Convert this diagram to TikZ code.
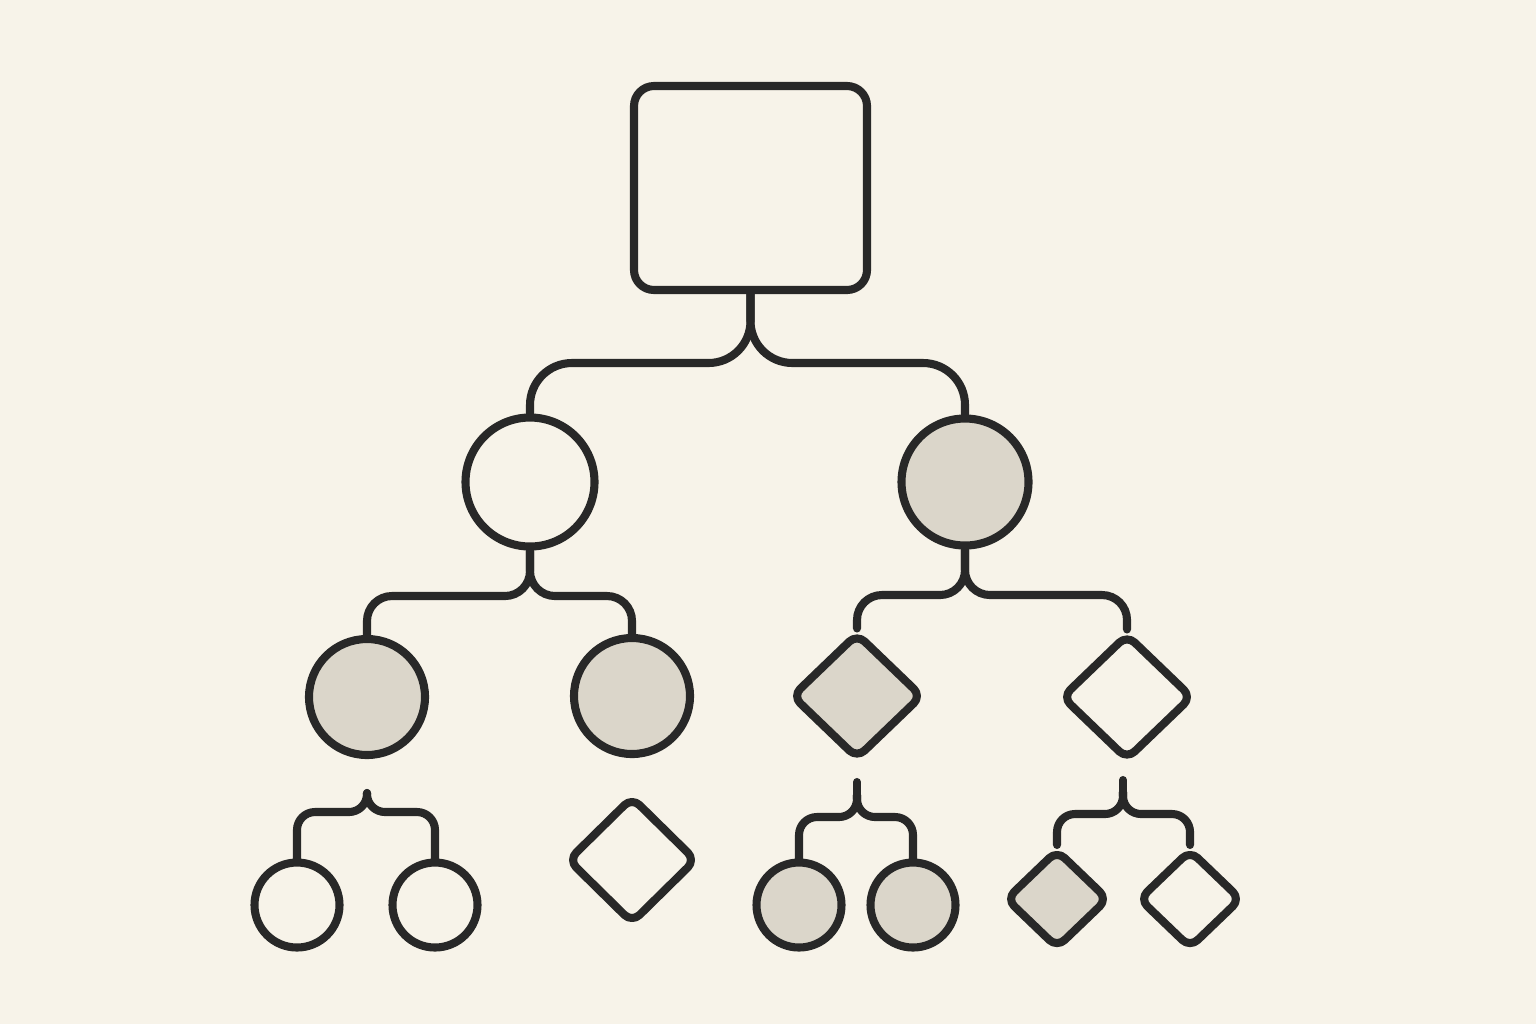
\documentclass[tikz,border=0pt]{standalone}
\usepackage{tikz}
\usetikzlibrary{positioning,shapes.geometric}
\definecolor{paper}{RGB}{247,243,233}
\definecolor{ink}{RGB}{40,40,40}
\definecolor{shade}{RGB}{219,214,202}

\begin{document}
\begin{tikzpicture}[on grid,line width=2.3pt,line join=round,line cap=round,
  box node/.style={rectangle,draw=ink,rounded corners=0.2cm,minimum width=2.33cm,minimum height=2.04cm,inner sep=0pt},
  round node/.style={circle,draw=ink,inner sep=0pt},
  kite node/.style={diamond,draw=ink,rounded corners=3pt,inner sep=0pt},
  link/.style={draw=ink}]
  \fill[paper] (0,0) rectangle (15.36,-10.24);
  \useasboundingbox (0,0) rectangle (15.36,-10.24);

  \node[box node] (top) at (7.505,-1.88) {};
  \node[round node,minimum size=1.29cm] (l) [below left=2.94cm and 2.205cm of top] {};
  \node[round node,fill=shade,minimum size=1.27cm] (r) [below right=2.94cm and 2.145cm of top] {};
  \node[round node,fill=shade,minimum size=1.16cm] (ll) [below left=2.15cm and 1.63cm of l] {};
  \node[round node,fill=shade,minimum size=1.16cm] (lr) [below right=2.14cm and 1.02cm of l] {};
  \node[kite node,fill=shade,minimum width=1.32cm,minimum height=1.27cm] (rl) [below left=2.14cm and 1.08cm of r] {};
  \node[kite node,minimum width=1.32cm,minimum height=1.27cm] (rr) [below right=2.15cm and 1.62cm of r] {};

  % untere Reihe haengt nicht an den Knoten darueber, nur die Spitzen (t1..t3) sind darunter ausgerichtet
  \node[round node,minimum size=0.85cm] (lll) [below left=2.08cm and 0.70cm of ll] {};
  \node[round node,minimum size=0.85cm] (llr) [below right=2.08cm and 0.68cm of ll] {};
  \node[kite node,minimum width=1.30cm,minimum height=1.28cm] (lrd) [below=1.64cm of lr] {};
  \node[round node,fill=shade,minimum size=0.85cm] (rll) [below left=2.09cm and 0.58cm of rl] {};
  \node[round node,fill=shade,minimum size=0.85cm] (rlr) [below right=2.09cm and 0.56cm of rl] {};
  \node[kite node,fill=shade,minimum width=1.04cm,minimum height=1.0cm] (rrl) [below left=2.02cm and 0.70cm of rr] {};
  \node[kite node,minimum width=1.04cm,minimum height=1.0cm] (rrr) [below right=2.02cm and 0.63cm of rr] {};
  \coordinate[below=0.96cm of ll] (t1);
  \coordinate[below=0.99cm of rl] (t2);
  \coordinate[below left=0.95cm and 0.04cm of rr] (t3);
  \coordinate[above=0.13cm of t2] (s2);
  \coordinate[above=0.12cm of t3] (s3);

  % Hoehe der Querbalken
  \coordinate[below=1.75cm of top] (j0);
  \coordinate[below=1.14cm of l] (j1);
  \coordinate[below=1.13cm of r] (j2);
  \coordinate[below=0.19cm of t1] (j3);
  \coordinate[below=0.22cm of t2] (j4);
  \coordinate[below=0.22cm of t3] (j5);

  \draw[link,rounded corners=0.42cm] (top.south) |- (l.north |- j0) -- (l.north);
  \draw[link,rounded corners=0.42cm] (top.south) |- (r.north |- j0) -- (r.north);
  \draw[link,rounded corners=0.25cm] (l.south) |- (ll.north |- j1) -- (ll.north);
  \draw[link,rounded corners=0.25cm] (l.south) |- (lr.north |- j1) -- (lr.north);
  \draw[link,rounded corners=0.25cm] (r.south) |- (rl.north |- j2) -- (rl.north);
  \draw[link,rounded corners=0.25cm] (r.south) |- (rr.north |- j2) -- (rr.north);
  \draw[link,rounded corners=0.18cm] (t1) |- (lll.north |- j3) -- (lll.north);
  \draw[link,rounded corners=0.18cm] (t1) |- (llr.north |- j3) -- (llr.north);
  \draw[link] (s2) -- (t2);
  \draw[link,rounded corners=0.18cm] (t2) |- (rll.north |- j4) -- (rll.north);
  \draw[link,rounded corners=0.18cm] (t2) |- (rlr.north |- j4) -- (rlr.north);
  \draw[link] (s3) -- (t3);
  \draw[link,rounded corners=0.18cm] (t3) |- (rrl.north |- j5) -- (rrl.north);
  \draw[link,rounded corners=0.18cm] (t3) |- (rrr.north |- j5) -- (rrr.north);
\end{tikzpicture}
\end{document}
